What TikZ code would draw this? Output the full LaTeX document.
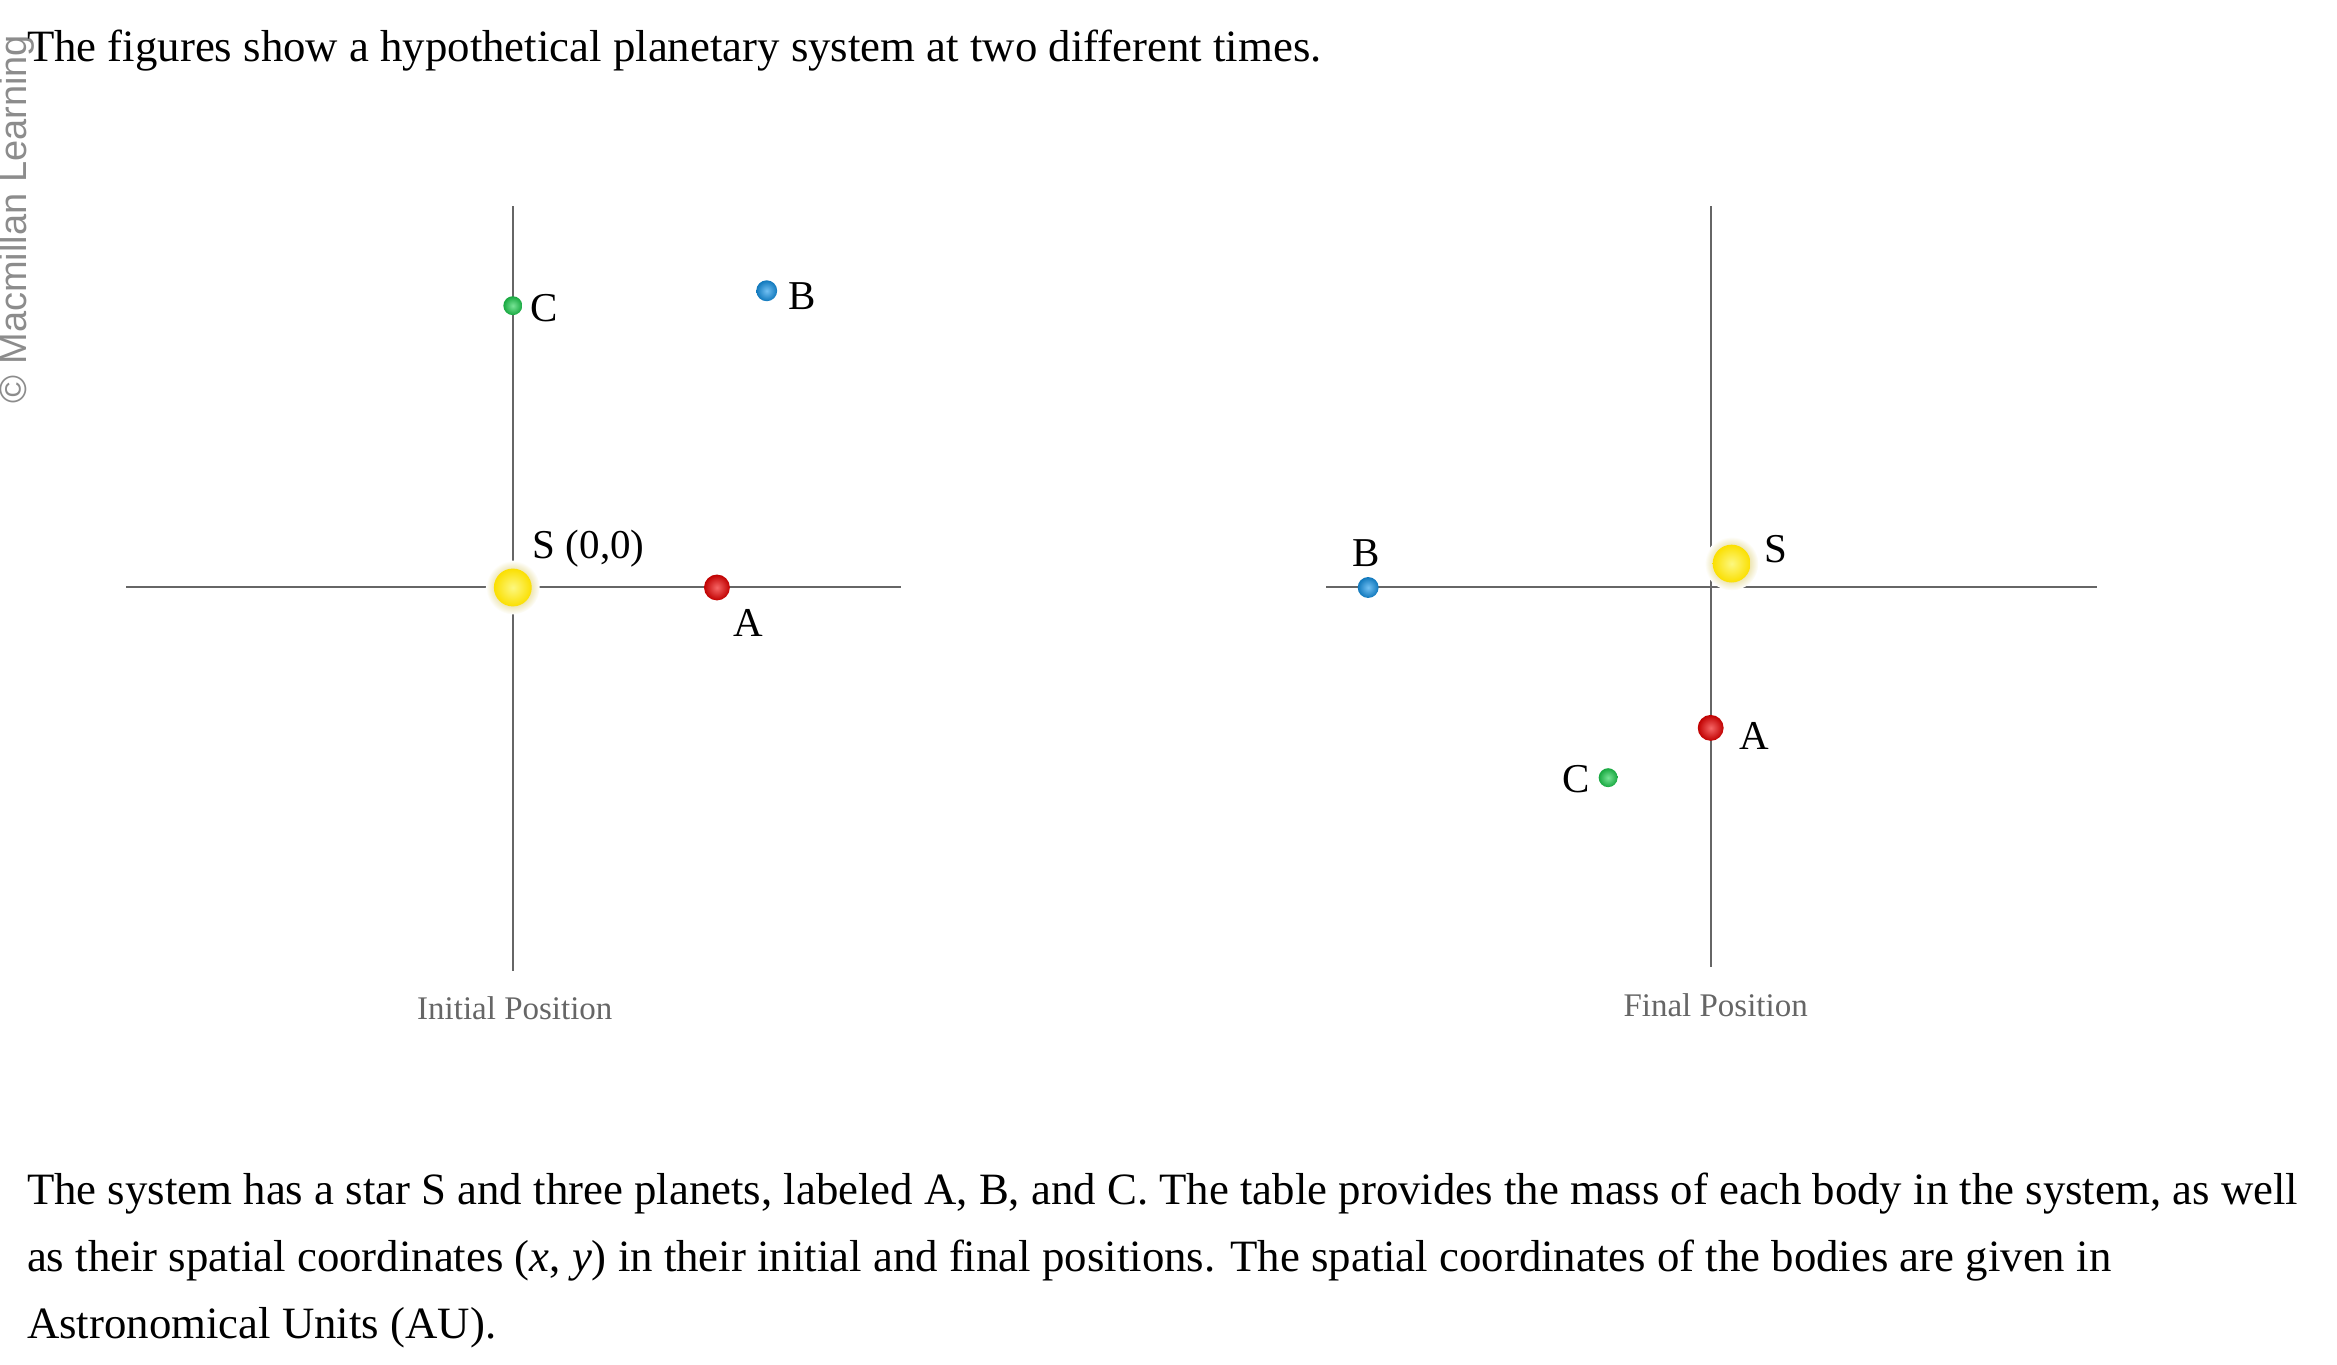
\documentclass[tikz,border=0pt]{standalone}
\usepackage{fontspec}
\setmainfont{Liberation Serif}
\newfontfamily\wmfont{Liberation Sans}
\definecolor{pA}{RGB}{240,0,0}
\definecolor{pB}{RGB}{20,150,235}
\definecolor{pC}{RGB}{30,210,80}
\definecolor{sY}{RGB}{250,240,0}
\definecolor{halo}{RGB}{200,175,20}
\tikzset{
 axis/.style={draw=black!60, line width=2pt},
 lbl/.style={font=\fontsize{41}{48}\selectfont, inner sep=0pt},
 captxt/.style={font=\fontsize{33}{38}\selectfont, text=black!60, inner sep=0pt},
 para/.style={font=\fontsize{44.8}{67}\selectfont, inner sep=0pt, anchor=base west, align=left},
 planet/.style={inner color=#1!60!white, outer color=#1!80!black},
}
\begin{document}
\begin{tikzpicture}[x=0.9956pt,y=-0.9956pt]
\useasboundingbox (0,0) rectangle (2347,1370);
\clip (0,0) rectangle (2347,1370);
% watermark
\node[rotate=90, anchor=base west, inner sep=0pt, text=black!45, font=\wmfont\fontsize{38}{40}\selectfont] (wm) at (27,405) {© Macmillan Learning};
% title
\node[para] (title) at (27,62) {The figures show a hypothetical planetary system at two different times.};
% left axes
\coordinate (L0) at (515,590);
\draw[axis] (515,207) -- (515,975);
\draw[axis] (127,590) -- (905,590);
\shade[inner color=halo, outer color=white] (L0) circle (27);
\shade[inner color=sY!50!white, outer color=sY!85!orange] (L0) circle (19);
\shade[planet=pA] (720,590) circle (13) node (A1) {};
\shade[planet=pB] (770,292) circle (10.5) node (B1) {};
\shade[planet=pC] (515,307) circle (9.5) node (C1) {};
\node[lbl, anchor=west] (lC1) at (533,309) {C};
\node[lbl, anchor=west] (lB1) at (792,297) {B};
\node[lbl, anchor=west] (lS1) at (535,551) {S (0,0)};
\node[lbl] (lA1) at (752,626) {A};
\node[captxt] (t1) at (517,1013) {Initial Position};
% right axes
\draw[axis] (1718,207) -- (1718,971);
\draw[axis] (1332,590) -- (2106,590);
\coordinate (S2) at (1739,566);
\shade[inner color=halo, outer color=white] (S2) circle (27);
\shade[inner color=sY!50!white, outer color=sY!85!orange] (S2) circle (19);
\shade[planet=pB] (1374,590) circle (10.5) node (B2) {};
\shade[planet=pA] (1718,731) circle (13) node (A2) {};
\shade[planet=pC] (1615,781) circle (9.5) node (C2) {};
\node[lbl] (lS2) at (1783,551) {S};
\node[lbl] (lB2) at (1372,556) {B};
\node[lbl] (lA2) at (1762,739) {A};
\node[lbl] (lC2) at (1583,782) {C};
\node[captxt] (t2) at (1723,1010) {Final Position};
% paragraph
\node[para] (p1) at (27,1210) {The system has a star S and three planets, labeled A, B, and C. The table provides the mass of each body in the system, as well};
\node[para] (p2) at (27,1277) {as their spatial coordinates (\textit{x}, \textit{y}) in their initial and final positions. The spatial coordinates of the bodies are given in};
\node[para] (p3) at (27,1344) {Astronomical Units (AU).};
\end{tikzpicture}
\end{document}
